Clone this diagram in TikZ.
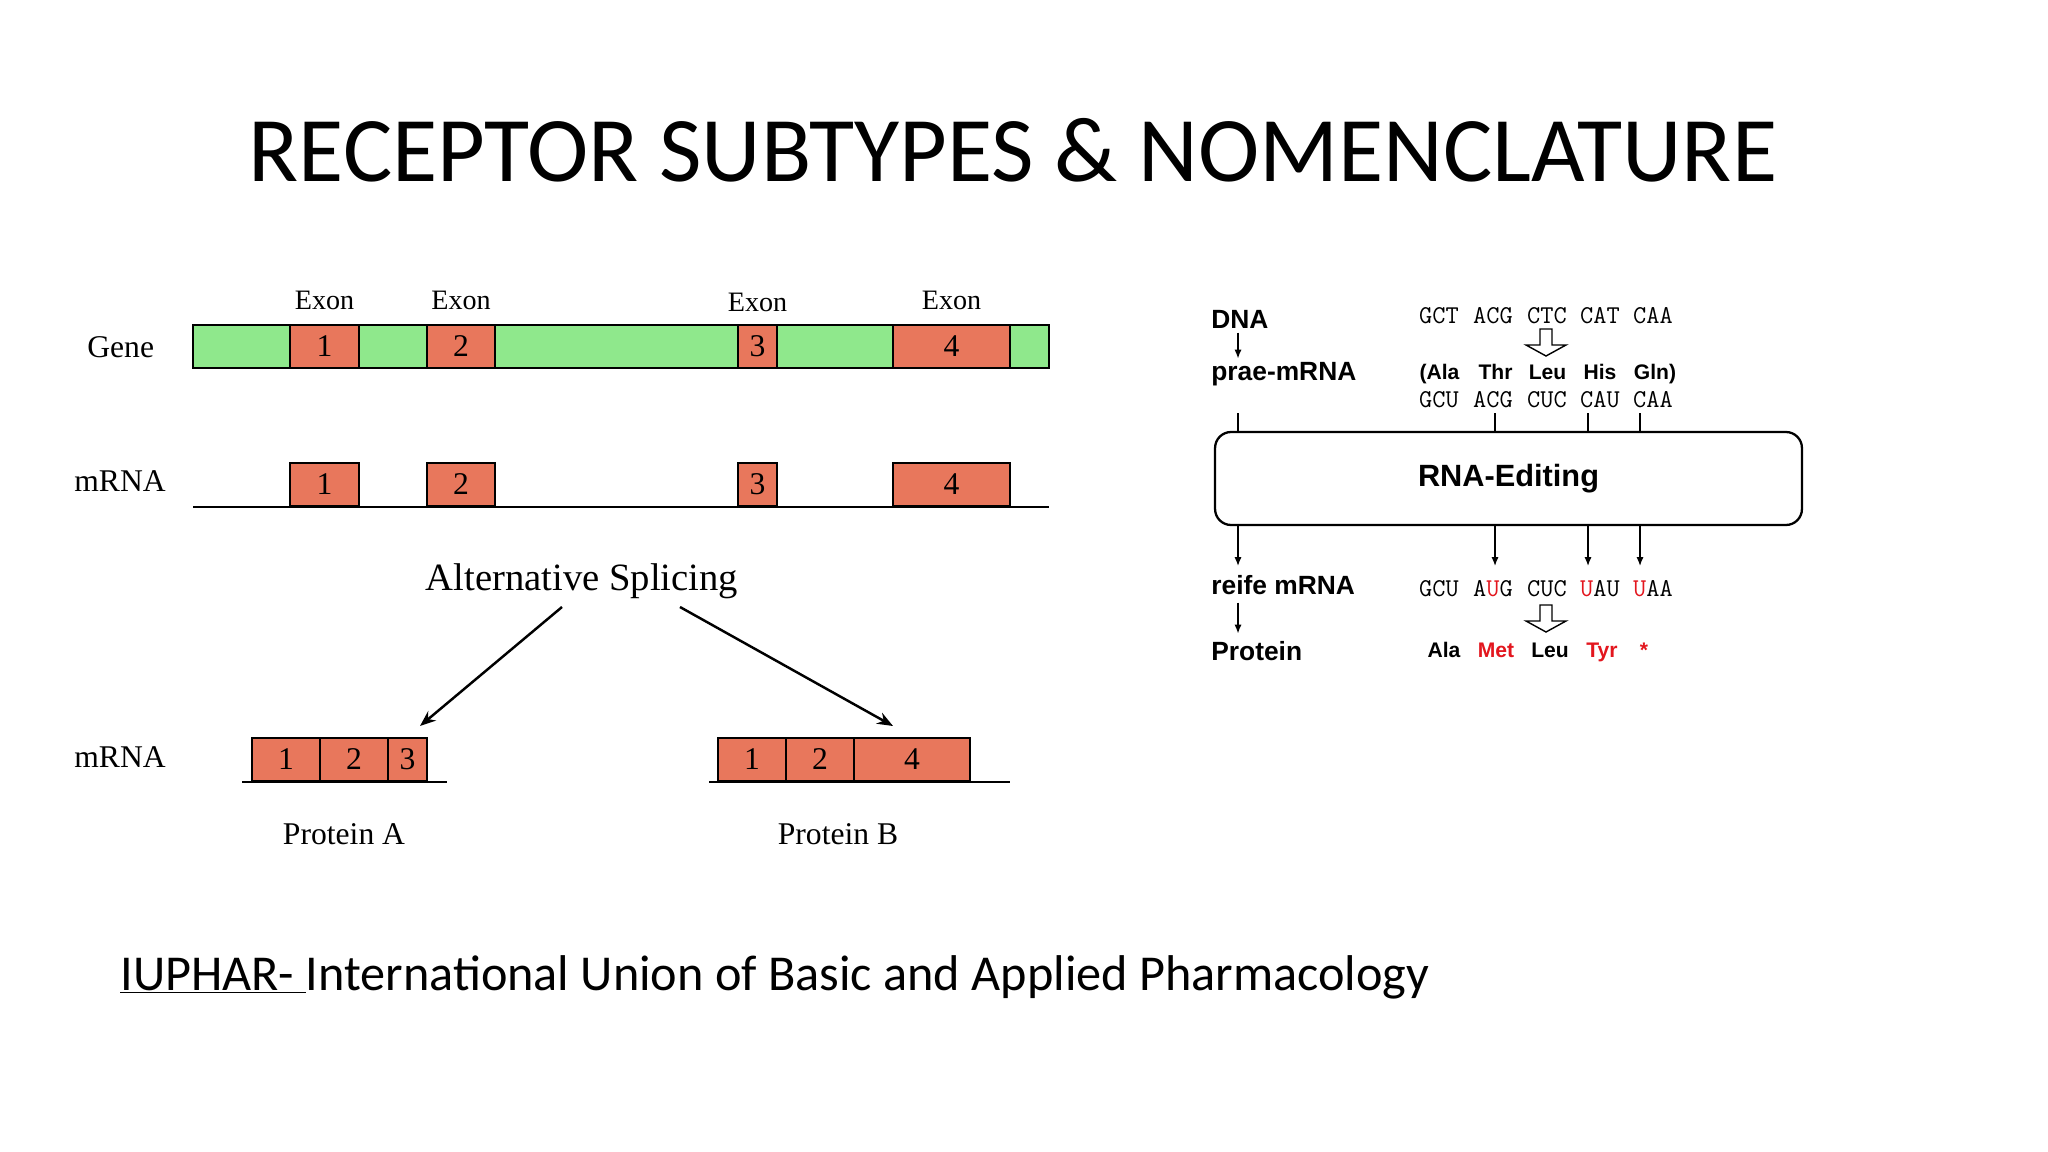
\documentclass[tikz,border=0pt]{standalone}
\usepackage{fontspec}
\setmainfont{Liberation Serif}
\newfontfamily\slidefont{Carlito}
\newfontfamily\labelfont{Liberation Sans}
\usetikzlibrary{arrows.meta,positioning}
\definecolor{splGreen}{HTML}{8FE88C}
\definecolor{splRed}{HTML}{E8775C}
\definecolor{edRed}{HTML}{E3161E}
\tikzset{
  splbar/.style={draw=black,line width=1.1pt,fill=splGreen,minimum width=#1*0.02cm,
                 minimum height=0.87cm,inner sep=0pt},
  splexon/.style={draw=black,line width=0.9pt,fill=splRed,minimum width=#1*0.02cm,
                  minimum height=0.87cm,inner sep=0pt,font=\fontsize{18}{18}\selectfont},
  spltext/.style={font=\fontsize{18}{20}\selectfont,inner sep=0pt},
  splexlabel/.style={font=\fontsize{16}{18}\selectfont,inner sep=0pt,anchor=base},
  splline/.style={line width=1.2pt},
  splarrow/.style={-{Stealth[length=9pt,width=7pt]},line width=1.4pt},
  edlabel/.style={font=\labelfont\bfseries\fontsize{15}{17}\selectfont,inner sep=0pt,
                  anchor=base west},
  edcodon/.style={font=\ttfamily\fontsize{14.6}{16}\selectfont,inner sep=0pt,
                  anchor=base},
  edamino/.style={font=\labelfont\bfseries\fontsize{12}{14}\selectfont,inner sep=0pt,
                  anchor=base},
  edline/.style={line width=0.8pt},
  edarrow/.style={-{Latex[length=5pt,width=4pt]},line width=0.8pt},
  edhollow/.style={draw=black,line width=0.8pt,fill=white,line join=miter},
  edbox/.style={draw=black,line width=1.3pt,rounded corners=0.32cm,minimum width=11.74cm,
                minimum height=1.86cm,inner sep=0pt,
                font=\labelfont\bfseries\fontsize{17.5}{20}\selectfont}
}
\begin{document}
\begin{tikzpicture}[x=0.02cm,y=-0.02cm]
  \useasboundingbox[fill=white] (0,0) rectangle (2048,1152);
  \node[font=\slidefont\fontsize{52.6}{60}\selectfont,anchor=base,inner sep=0pt]
    (title) at (1013,182) {RECEPTOR SUBTYPES \& NOMENCLATURE};

  \begin{scope}
    \node[spltext,anchor=base west] (gene) at (87,357) {Gene};
    \node[splbar=856] (bar) at (621,346.5) {};
    \node[splexon=69] (g1) at (324.5,346.5) {1};
    \node[splexon=68] (g2) at (461,346.5) {2};
    \node[splexon=39] (g3) at (757.5,346.5) {3};
    \node[splexon=117] (g4) at (951.5,346.5) {4};
    \node[splexlabel] at (g1 |- 0,309) {Exon};
    \node[splexlabel] at (g2 |- 0,309) {Exon};
    \node[splexlabel] at (g3 |- 0,311) {Exon};
    \node[splexlabel] at (g4 |- 0,309) {Exon};

    \node[spltext,anchor=base west] (mrna) at (74,491) {mRNA};
    \coordinate (m0) at (193,507);
    \coordinate (m9) at (1049,507);
    \draw[splline] (m0) -- (m9);
    \node[splexon=69,anchor=south] (r1) at (324.5,507) {1};
    \node[splexon=68,anchor=south] (r2) at (461,507) {2};
    \node[splexon=39,anchor=south] (r3) at (757.5,507) {3};
    \node[splexon=117,anchor=south] (r4) at (951.5,507) {4};

    \node[font=\fontsize{22}{24}\selectfont,anchor=base,inner sep=0pt]
      (alt) at (582,590) {Alternative Splicing};
    \coordinate (sl) at (562,607);
    \coordinate (sr) at (680,607);
    \coordinate (pa) at (420,726);
    \coordinate (pb) at (893,726);
    \draw[splarrow] (sl) -- (pa);
    \draw[splarrow] (sr) -- (pb);

    \node[spltext,anchor=base west] (mrnb) at (74,767) {mRNA};
    \coordinate (a0) at (242,782);
    \coordinate (a9) at (447,782);
    \coordinate (b0) at (709,782);
    \coordinate (b9) at (1010,782);
    \draw[splline] (a0) -- (a9);
    \draw[splline] (b0) -- (b9);
    \node[splexon=68,anchor=south] (a1) at (286,782) {1};
    \node[splexon=68,anchor=south] (a2) at (354,782) {2};
    \node[splexon=39,anchor=south] (a3) at (407.5,782) {3};
    \node[splexon=68,anchor=south] (b1) at (752,782) {1};
    \node[splexon=68,anchor=south] (b2) at (820,782) {2};
    \node[splexon=116,anchor=south] (b4) at (912,782) {4};
    \node[spltext,anchor=base] (prota) at (344,844) {Protein A};
    \node[spltext,anchor=base] (protb) at (838,844) {Protein B};
  \end{scope}

  \begin{scope}
    \node[edlabel] (dna) at (1211,328) {DNA};
    \node[edlabel] (prae) at (1211,380) {prae-mRNA};
    \node[edlabel] (reife) at (1211,594) {reife mRNA};
    \node[edlabel] (prot) at (1211,660) {Protein};
    \coordinate (col) at (1238,0);
    \draw[edarrow] ([yshift=-2.5pt]dna.south -| col) -- ([yshift=1.7pt]prae.north -| col);
    \draw[edarrow] ([yshift=-4.5pt]reife.south -| col) -- ([yshift=4pt]prot.north -| col);

    \node[edcodon] (c11) at (1439,323) {GCT};
    \node[edcodon] (c12) at (1493,323) {ACG};
    \node[edcodon] (c13) at (1547,323) {CTC};
    \node[edcodon] (c14) at (1600,323) {CAT};
    \node[edcodon] (c15) at (1653,323) {CAA};
    \draw[edhollow] (1540,329) -- (1552,329) -- (1552,345) -- (1566,345)
      -- (1546,356) -- (1526,345) -- (1540,345) -- cycle;
    \node[edamino] (p11) at (1439.5,379.5) {(Ala};
    \node[edamino] (p12) at (1495.5,379.5) {Thr};
    \node[edamino] (p13) at (1547.5,379.5) {Leu};
    \node[edamino] (p14) at (1600,379.5) {His};
    \node[edamino] (p15) at (1655,379.5) {Gln)};
    \node[edcodon] (c21) at (1439,407) {GCU};
    \node[edcodon] (c22) at (1493,407) {ACG};
    \node[edcodon] (c23) at (1547,407) {CUC};
    \node[edcodon] (c24) at (1600,407) {CAU};
    \node[edcodon] (c25) at (1653,407) {CAA};

    \node[edbox] (edit) at (1508.5,478.5) {RNA-Editing};
    \coordinate (t1) at (1238,413);
    \coordinate (t2) at (1495,413);
    \coordinate (t3) at (1588,413);
    \coordinate (t4) at (1640,413);
    \coordinate (k1) at (1238,566);
    \coordinate (k2) at (1495,566);
    \coordinate (k3) at (1588,566);
    \coordinate (k4) at (1640,566);
    \draw[edline] (t1) -- (t1 |- edit.north);
    \draw[edline] (t2) -- (t2 |- edit.north);
    \draw[edline] (t3) -- (t3 |- edit.north);
    \draw[edline] (t4) -- (t4 |- edit.north);
    \draw[edarrow] (edit.south -| k1) -- (k1);
    \draw[edarrow] (edit.south -| k2) -- (k2);
    \draw[edarrow] (edit.south -| k3) -- (k3);
    \draw[edarrow] (edit.south -| k4) -- (k4);

    \node[edcodon] (c31) at (1439,596) {GCU};
    \node[edcodon] (c32) at (1493,596) {A\textcolor{edRed}{U}G};
    \node[edcodon] (c33) at (1547,596) {CUC};
    \node[edcodon] (c34) at (1600,596) {\textcolor{edRed}{U}AU};
    \node[edcodon] (c35) at (1653,596) {\textcolor{edRed}{U}AA};
    \draw[edhollow] (1540,605) -- (1552,605) -- (1552,621) -- (1566,621)
      -- (1546,632) -- (1526,621) -- (1540,621) -- cycle;
    \node[edamino] (p21) at (1444,657) {Ala};
    \node[edamino,text=edRed] (p22) at (1496,657) {Met};
    \node[edamino] (p23) at (1550,657) {Leu};
    \node[edamino,text=edRed] (p24) at (1602,657) {Tyr};
    \node[edamino,text=edRed] (p25) at (1644,657) {*};
  \end{scope}

  \node[font=\slidefont\fontsize{28.6}{34}\selectfont,anchor=base west,inner sep=0pt]
    (iuphar) at (120,990)
    {\underline{IUPHAR-\ }International Union of Basic and Applied Pharmacology};
\end{tikzpicture}
\end{document}
